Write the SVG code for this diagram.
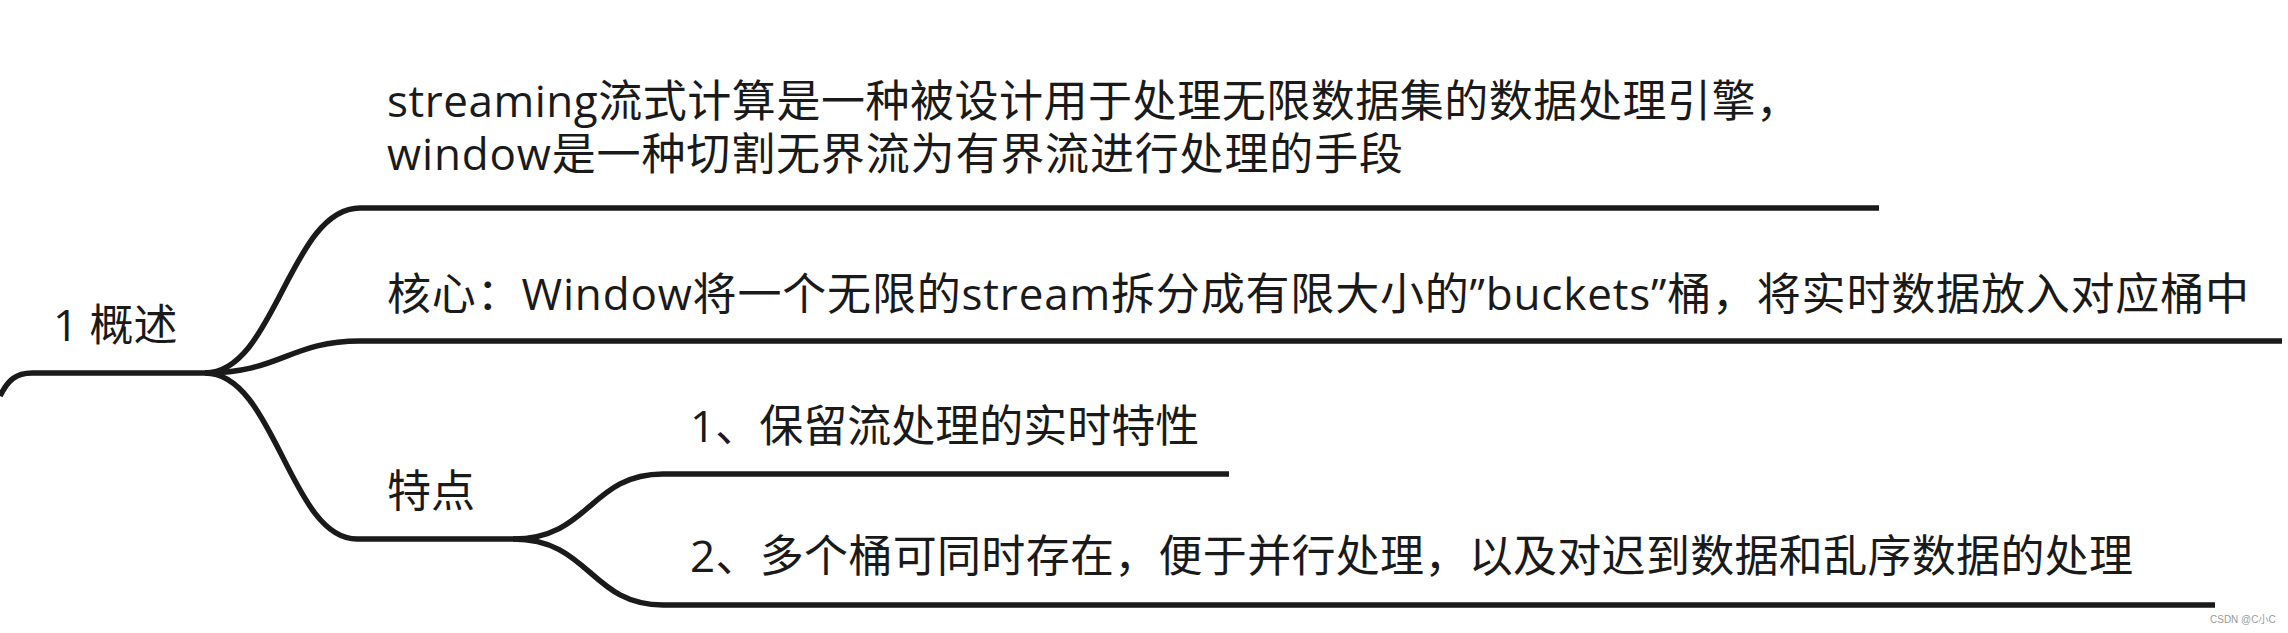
<svg xmlns="http://www.w3.org/2000/svg" width="2288" height="633" viewBox="0 0 2288 633">
<style>
.t{font-family:"Open Sans","Noto Sans CJK SC",sans-serif;font-size:44px;fill:#1a1a1a}
.c{fill:none;stroke:#1a1a1a;stroke-width:5.5;stroke-linecap:butt}
.wm{font-family:"Liberation Sans","Noto Sans CJK SC",sans-serif;font-size:10px;fill:#999}
</style>
<rect width="2288" height="633" fill="#fff"/>
<g id="connectors">
<path class="c" d="M0,396 C8,380 16,373 32,373 L205,373"/>
<path class="c" d="M205,373 C275,373 290,208 360,208 L1879,208"/>
<path class="c" d="M205,373 C280,373 290,341 360,341 L2282,341"/>
<path class="c" d="M205,373 C275,373 290,539 357,539 L513,539"/>
<path class="c" d="M513,539 C590,539 590,474 663,474 L1229,474"/>
<path class="c" d="M513,539 C590,539 590,605 663,605 L2215,605"/>
</g>
<g id="root"><text class="t" x="53" y="341">1 概述</text></g>
<g id="n1"><text class="t"><tspan x="387" y="117" textLength="1413">streaming流式计算是一种被设计用于处理无限数据集的数据处理引擎，</tspan><tspan x="387" y="170" textLength="1016">window是一种切割无界流为有界流进行处理的手段</tspan></text></g>
<g id="n2"><text class="t" x="387" y="310" textLength="1862">核心：Window将一个无限的stream拆分成有限大小的”buckets”桶，将实时数据放入对应桶中</text></g>
<g id="n3"><text class="t" x="387" y="507">特点</text></g>
<g id="n31"><text class="t" x="690" y="442">1、保留流处理的实时特性</text></g>
<g id="n32"><text class="t" x="690" y="572" textLength="1443">2、多个桶可同时存在，便于并行处理，以及对迟到数据和乱序数据的处理</text></g>
<text class="wm" x="2210" y="623">CSDN @C小C</text>
</svg>
